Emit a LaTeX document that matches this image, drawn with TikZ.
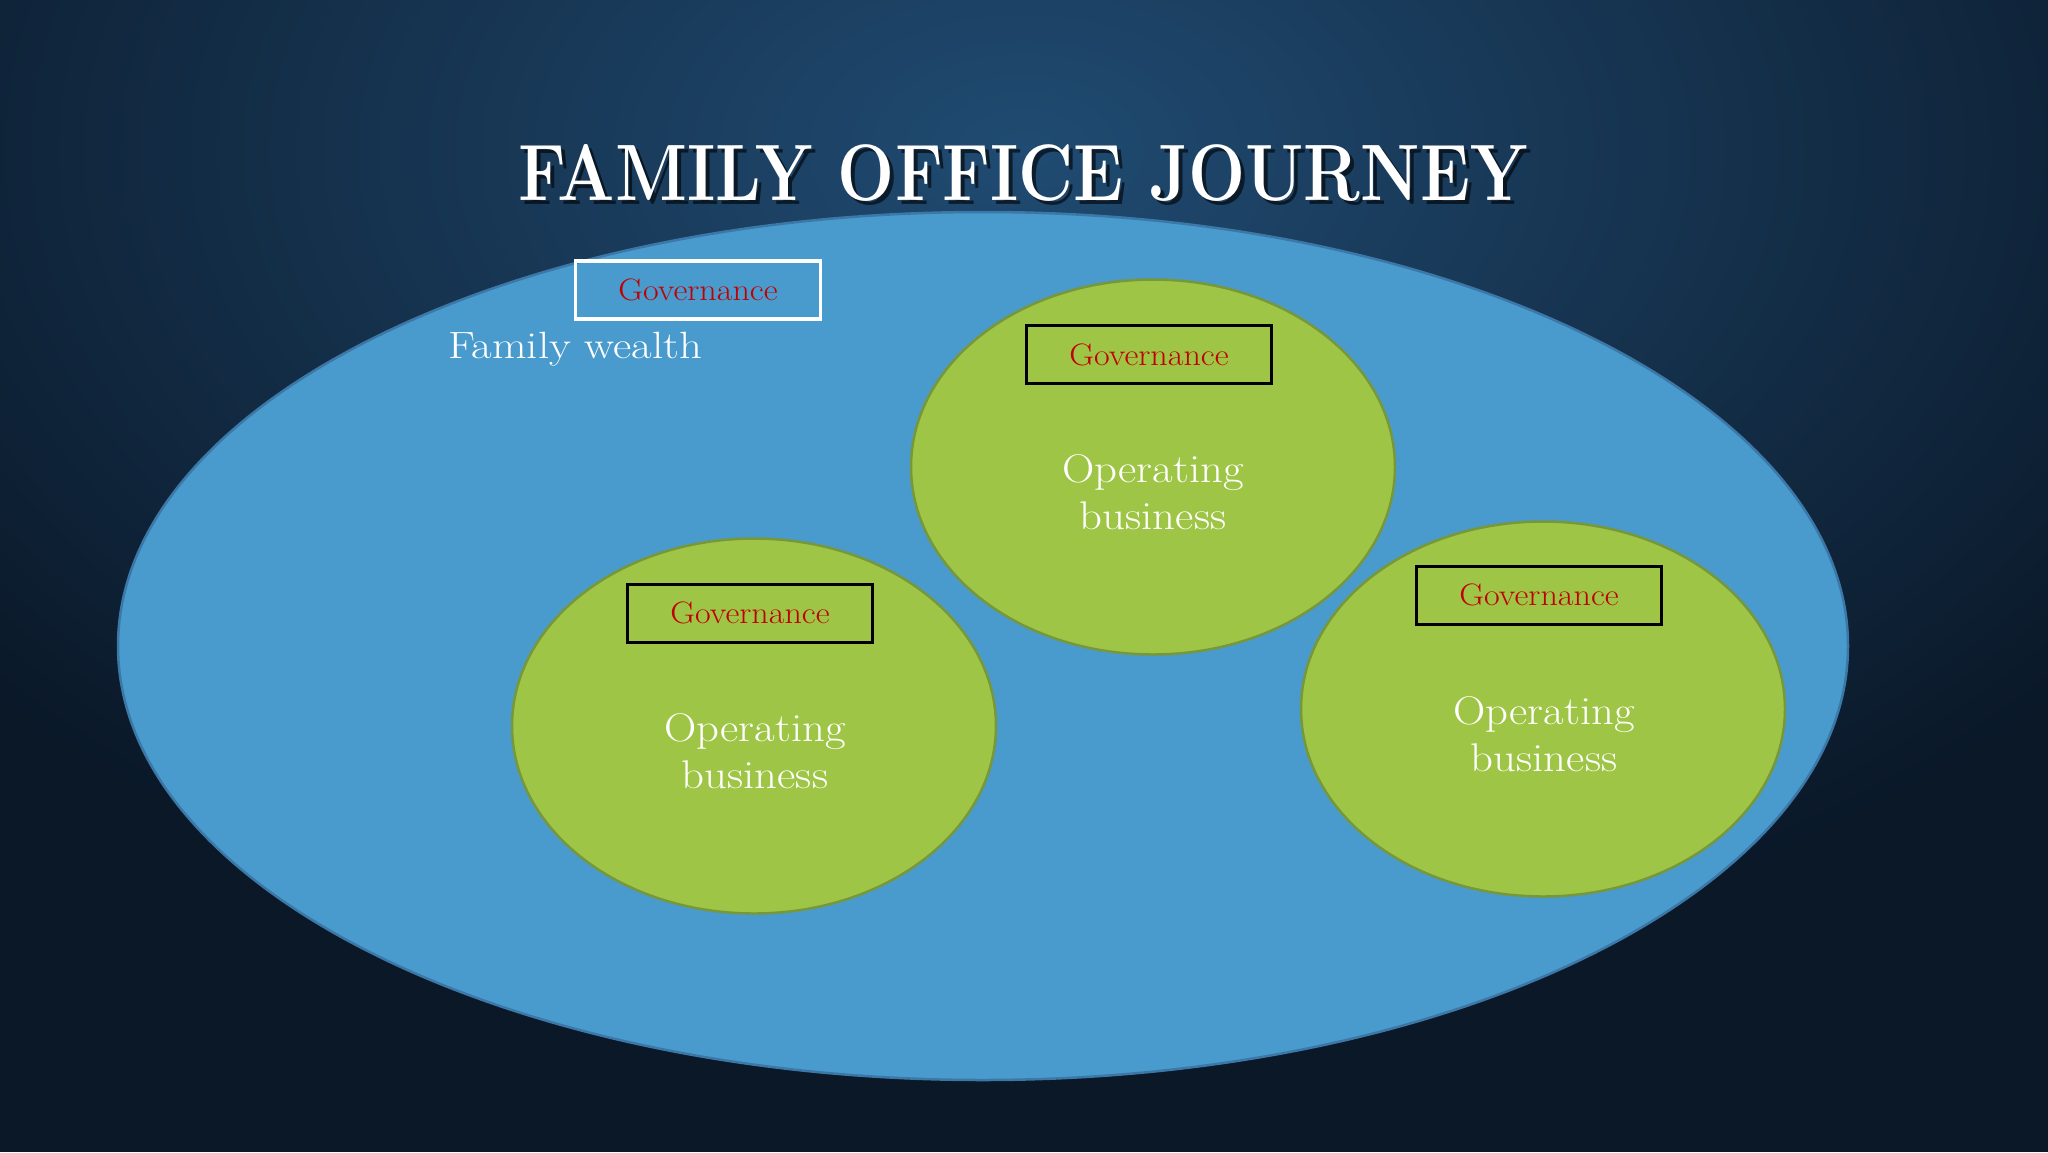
\documentclass[tikz,border=0pt]{standalone}
\usepackage{graphicx}
\usetikzlibrary{shapes.geometric}
\definecolor{bgdark}{HTML}{0A1828}
\definecolor{bglight}{HTML}{204B72}
\definecolor{bluefill}{HTML}{4A9BCD}
\definecolor{blueline}{HTML}{3B78A8}
\definecolor{greenfill}{HTML}{9EC545}
\definecolor{greenline}{HTML}{76973A}
\definecolor{govred}{HTML}{C00000}
\newcommand{\govlabel}{\scalebox{1.1}[1]{Governance}}
\newcommand{\oplabel}{\scalebox{1.12}[1]{\begin{tabular}{@{}c@{}}Operating\\[0.03em]business\end{tabular}}}
\tikzset{
  bigell/.style={ellipse, draw=blueline, fill=bluefill, line width=2.5pt, inner sep=0pt, minimum width=1730pt, minimum height=868pt},
  opell/.style={ellipse, draw=greenline, fill=greenfill, line width=2.5pt, inner sep=0pt, minimum width=484pt, minimum height=375pt},
  govbox/.style={draw=black, line width=3pt, minimum width=245pt, minimum height=58pt, inner sep=0pt, text=govred, font=\fontsize{31}{36}\selectfont},
  govwhite/.style={govbox, draw=white, line width=3.5pt},
  optext/.style={text=white, align=center, font=\fontsize{40}{45}\selectfont, inner sep=0pt},
  wealthtext/.style={text=white, font=\fontsize{38}{44}\selectfont, inner sep=0pt},
  titletext/.style={font=\fontsize{80}{90}\selectfont\bfseries, inner sep=0pt}
}
\begin{document}
\begin{tikzpicture}[x=1pt,y=-1pt]
\useasboundingbox (0,0) rectangle (2048,1152);
\fill[bgdark] (0,0) rectangle (2048,1152);
\shade[inner color=bglight, outer color=bgdark] (1024,150) ellipse [x radius=1350pt, y radius=850pt];
% title
\node[titletext, text=black, opacity=0.6, anchor=base] (titleshadow) at (1027,204) {\scalebox{0.845}[1]{FAMILY OFFICE JOURNEY}};
\node[titletext, text=white, anchor=base] (title) at (1023,200) {\scalebox{0.845}[1]{FAMILY OFFICE JOURNEY}};
% family wealth
\node[bigell] (wealth) at (983,646) {};
\node[govwhite] (govw) at (698,290) {\govlabel};
\node[wealthtext, anchor=base west] (wlabel) at (448,358) {\scalebox{1.18}[1]{Family wealth}};
% operating businesses
\node[opell] (opt) at (1153,467) {};
\node[opell] (opl) at (754,726) {};
\node[opell] (opr) at (1543,709) {};
\node[govbox] (govt) at (1149,354.5) {\govlabel};
\node[govbox] (govl) at (750,613) {\govlabel};
\node[govbox] (govr) at (1539,595) {\govlabel};
\node[optext] (txtt) at (1153,497) {\oplabel};
\node[optext] (txtl) at (755,756) {\oplabel};
\node[optext] (txtr) at (1544,739) {\oplabel};
\end{tikzpicture}
\end{document}
